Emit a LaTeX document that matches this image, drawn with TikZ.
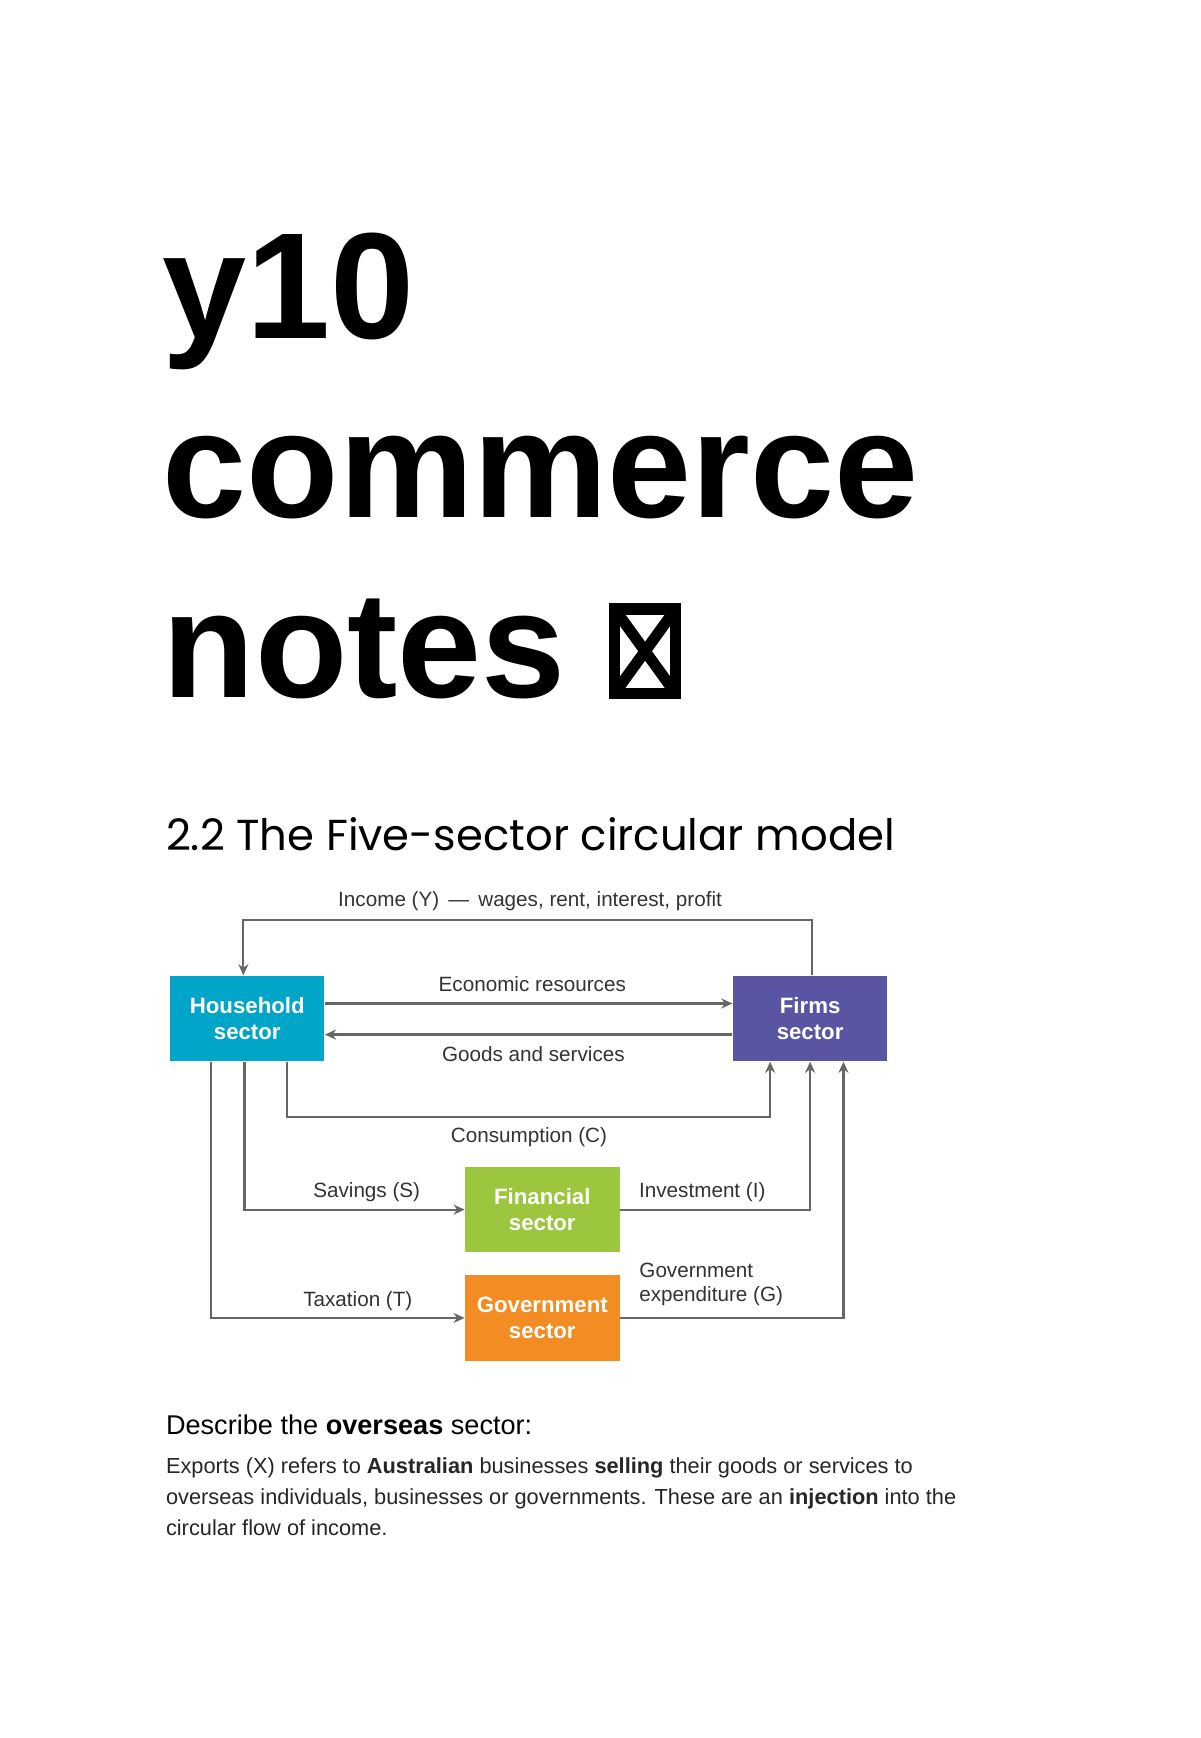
\documentclass[tikz,border=0pt]{standalone}
\usepackage{fontspec}
\setmainfont{Liberation Sans}
\newfontfamily\headfont{Poppins}
\usetikzlibrary{arrows.meta}
\definecolor{hh}{HTML}{00A5C8}
\definecolor{fi}{HTML}{5A55A3}
\definecolor{fn}{HTML}{9CC63E}
\definecolor{gv}{HTML}{F28C23}
\definecolor{ln}{HTML}{666666}
\begin{document}
\begin{tikzpicture}[x=0.5pt,y=-0.5pt,
  sector/.style={minimum width=69.5pt,minimum height=38.5pt,inner sep=0pt,text=white,font=\fontsize{10}{12}\selectfont\bfseries,align=center},
  flow/.style={draw=ln,line width=1pt,-{Stealth[length=5pt,width=4.5pt]}},
  lab/.style={font=\fontsize{9.3}{11}\selectfont,text=black!80,inner sep=0pt},
  title/.style={anchor=base west,font=\fontsize{68}{70}\selectfont\bfseries,inner sep=0pt}]
\useasboundingbox (0,0) rectangle (1080,1564);
\node[title] (t1) at (146,305) {y10};
\node[title] (t2) at (146,466) {commerce};
\node[title] (t3) at (146,628) {notes};
\draw[line width=5pt] (553,548) rectangle (608,624);
\draw[line width=5pt] (553,548) -- (608,624) (608,548) -- (553,624);
\node[anchor=base west,inner sep=0pt,font=\headfont\fontsize{19.5}{22}\selectfont] (h) at (149,765) {2.2 The Five-sector circular model};
% boxes
\node[sector,fill=hh] (H) at (222.5,916.5) {Household\\sector};
\node[sector,fill=fi] (F) at (729,916.5) {Firms\\sector};
\node[sector,fill=fn] (N) at (488,1088.5) {Financial\\sector};
\node[sector,fill=gv] (G) at (488,1186) {Government\\sector};
% flows
\draw[flow] (F.north -| 731,0) |- (219,828) -- (H.north -| 219,0);
\node[lab] (ly) at (477,811) {Income (Y) \,—\, wages, rent, interest, profit};
\draw[flow] (H.east |- 0,903) -- (F.west |- 0,903);
\node[lab] (le) at (479,886) {Economic resources};
\draw[flow] (F.west |- 0,931) -- (H.east |- 0,931);
\node[lab] (lg) at (480,949) {Goods and services};
\draw[flow] (H.south -| 258,0) |- (693,1005) -- (F.south -| 693,0);
\node[lab] (lc) at (476,1023) {Consumption (C)};
\draw[flow] (H.south -| 220,0) |- (N.west);
\node[lab] (ls) at (330,1073) {Savings (S)};
\draw[flow] (N.east) -| (F.south -| 729,0);
\node[lab] (li) at (632,1073) {Investment (I)};
\draw[flow] (H.south -| 190,0) |- (G.west);
\node[lab] (lt) at (322,1171) {Taxation (T)};
\draw[flow] (G.east) -| (F.south -| 759,0);
\node[lab,anchor=west,align=left] (lx) at (575,1156) {Government\\expenditure (G)};
% text
\node[anchor=base west,inner sep=0pt,font=\fontsize{12.2}{14}\selectfont] (d) at (149,1291) {Describe the \textbf{overseas} sector:};
\node[anchor=north west,inner sep=0pt,align=left,font=\fontsize{9.8}{14}\selectfont,text=black!85] (p) at (149,1311)
 {Exports (X) refers to \textbf{Australian} businesses \textbf{selling} their goods or services to\\
  overseas individuals, businesses or governments. These are an \textbf{injection} into the\\
  circular flow of income.};
\end{tikzpicture}
\end{document}
